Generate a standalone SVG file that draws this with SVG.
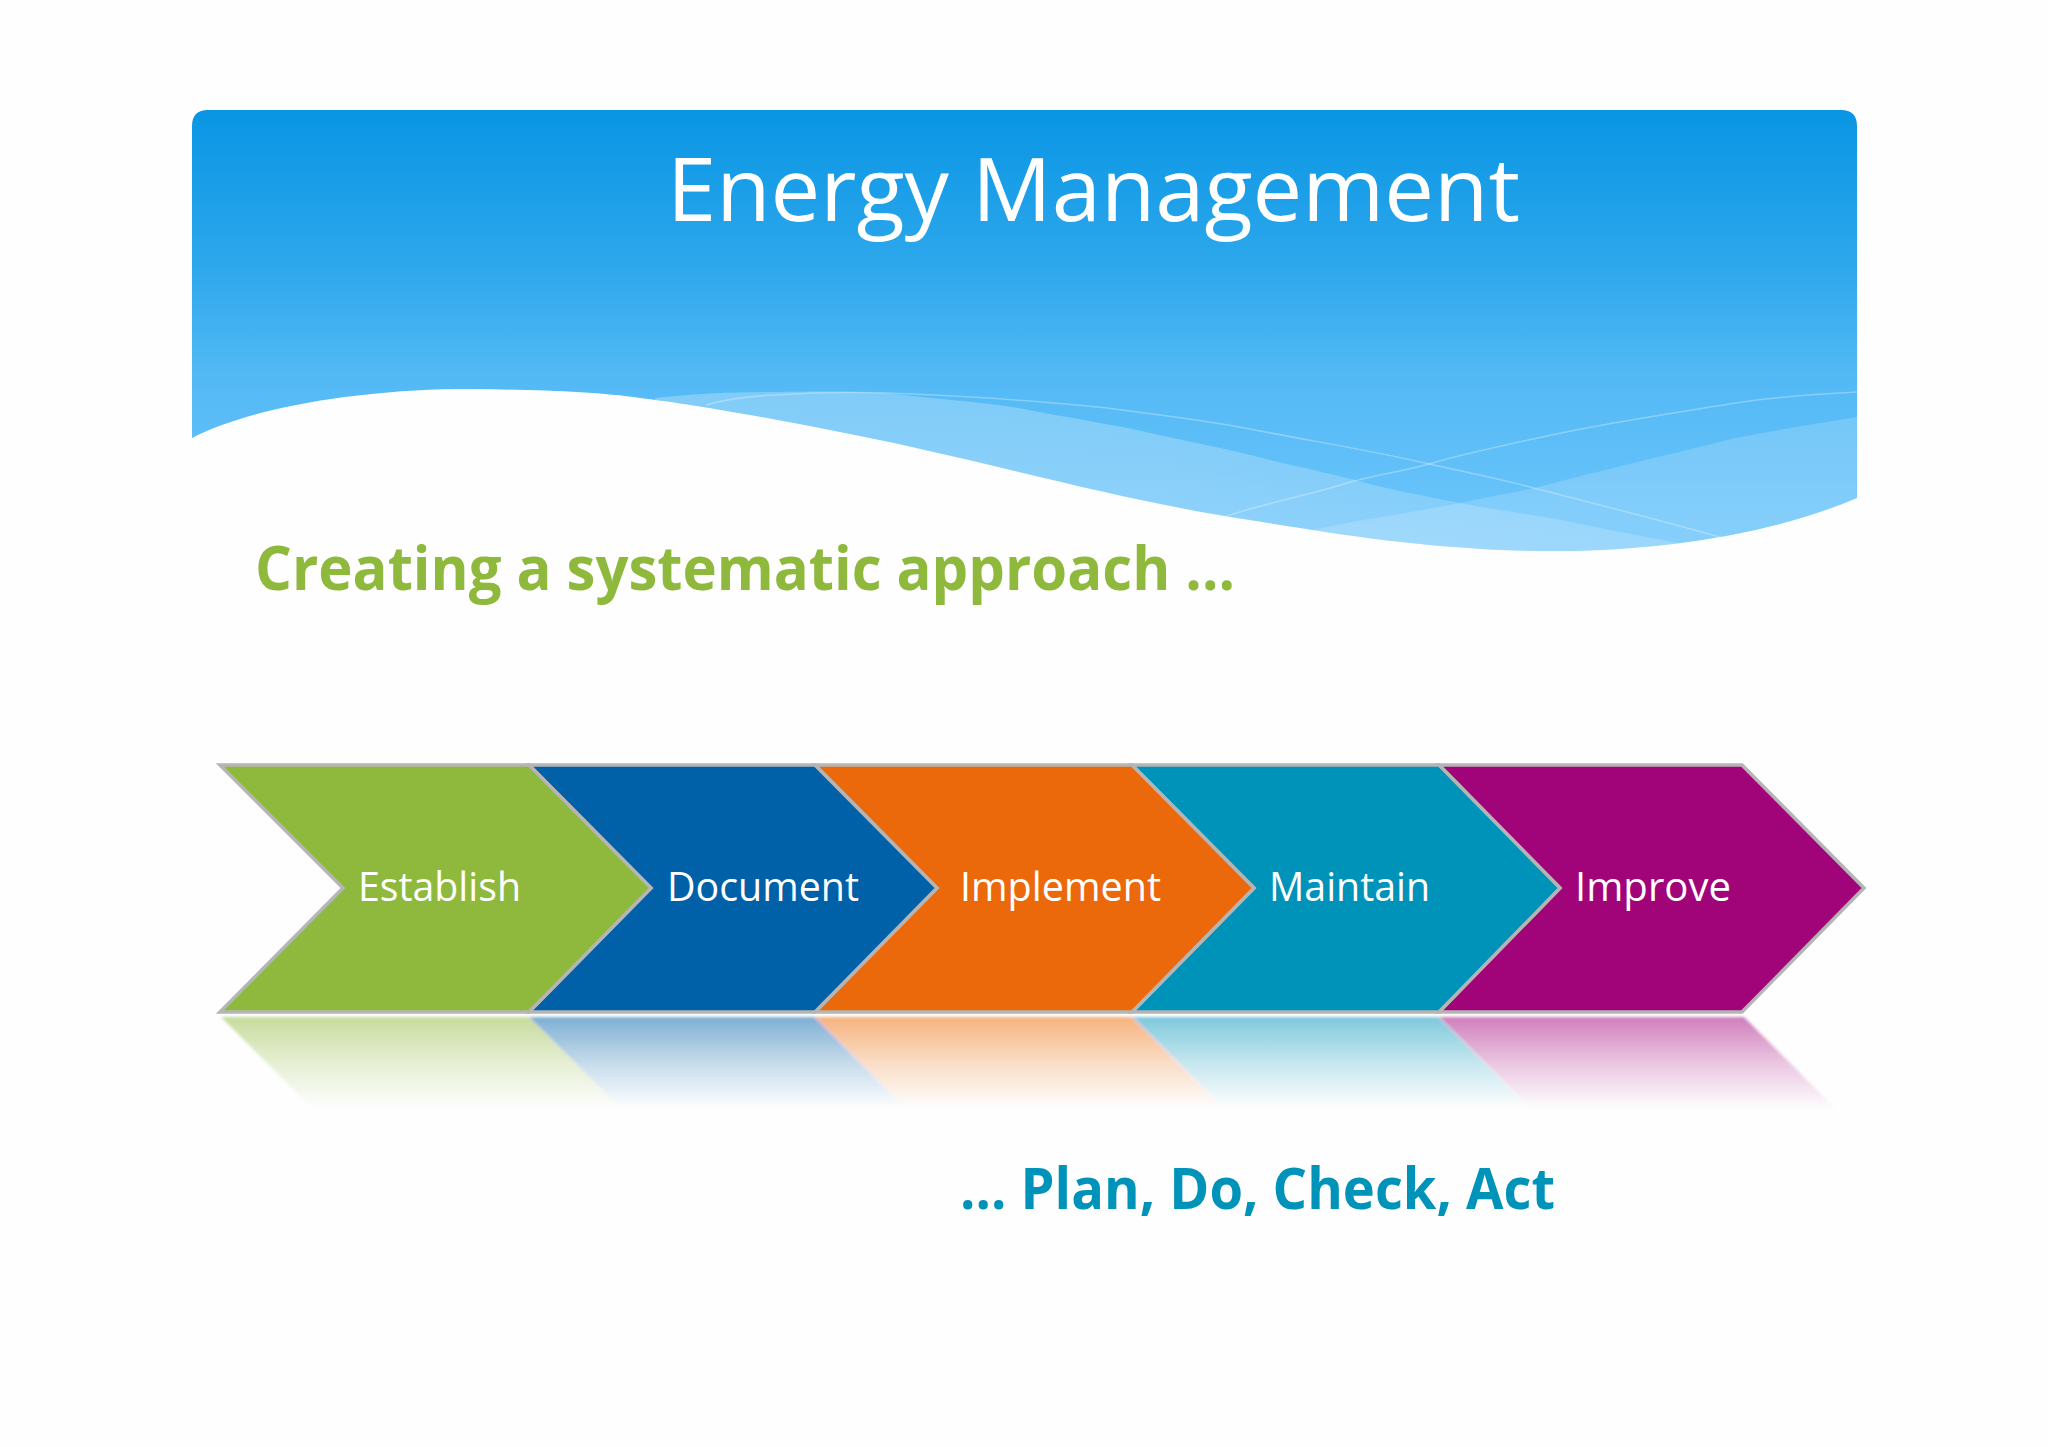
<svg xmlns="http://www.w3.org/2000/svg" width="2048" height="1447" viewBox="0 0 2048 1447">
<style>
text{font-family:"Open Sans","Noto Sans","Liberation Sans",sans-serif}
.lab{font-size:40px;fill:#fff}
.ch{stroke:#b5b5b5;stroke-width:3.5;stroke-linejoin:miter}
.hi{fill:none;stroke:#fff;stroke-opacity:.3;stroke-width:1.5}
</style>
<defs>
<linearGradient id="sky" x1="0" y1="0" x2="0" y2="1"><stop offset="0" stop-color="#0995e4"/><stop offset=".36" stop-color="#2ea8ec"/><stop offset=".6" stop-color="#52b9f5"/><stop offset="1" stop-color="#70c6fb"/></linearGradient>
<linearGradient id="bandA" gradientUnits="userSpaceOnUse" x1="650" y1="0" x2="1700" y2="0"><stop offset="0" stop-color="#fff" stop-opacity=".26"/><stop offset=".5" stop-color="#fff" stop-opacity=".24"/><stop offset="1" stop-color="#fff" stop-opacity=".16"/></linearGradient>
<linearGradient id="rg" x1="0" y1="0" x2="0" y2="1"><stop offset="0" stop-color="#8fb93c" stop-opacity=".5"/><stop offset=".5" stop-color="#8fb93c" stop-opacity=".22"/><stop offset="1" stop-color="#8fb93c" stop-opacity="0"/></linearGradient>
<linearGradient id="rb" x1="0" y1="0" x2="0" y2="1"><stop offset="0" stop-color="#0060a8" stop-opacity=".5"/><stop offset=".5" stop-color="#0060a8" stop-opacity=".22"/><stop offset="1" stop-color="#0060a8" stop-opacity="0"/></linearGradient>
<linearGradient id="ro" x1="0" y1="0" x2="0" y2="1"><stop offset="0" stop-color="#ec690b" stop-opacity=".5"/><stop offset=".5" stop-color="#ec690b" stop-opacity=".22"/><stop offset="1" stop-color="#ec690b" stop-opacity="0"/></linearGradient>
<linearGradient id="rt" x1="0" y1="0" x2="0" y2="1"><stop offset="0" stop-color="#0093b9" stop-opacity=".5"/><stop offset=".5" stop-color="#0093b9" stop-opacity=".22"/><stop offset="1" stop-color="#0093b9" stop-opacity="0"/></linearGradient>
<linearGradient id="rp" x1="0" y1="0" x2="0" y2="1"><stop offset="0" stop-color="#a10478" stop-opacity=".5"/><stop offset=".5" stop-color="#a10478" stop-opacity=".22"/><stop offset="1" stop-color="#a10478" stop-opacity="0"/></linearGradient>
<filter id="soft" x="-5%" y="-10%" width="110%" height="120%"><feGaussianBlur stdDeviation="1.5"/></filter>
<clipPath id="bc"><path d="M192 438C262 402 385 388 477 389C540 390 600 392 640 398C700 405 800 423 912 447C1029 473 1130 502 1250 520C1330 533 1440 552 1561 551C1660 550 1770 535 1857 498V126Q1857 110 1841 110H208Q192 110 192 126Z"/></clipPath>
</defs>
<rect width="2048" height="1447" fill="#fefefe"/>
<g id="banner">
<path d="M192 438C262 402 385 388 477 389C540 390 600 392 640 398C700 405 800 423 912 447C1029 473 1130 502 1250 520C1330 533 1440 552 1561 551C1660 550 1770 535 1857 498V126Q1857 110 1841 110H208Q192 110 192 126Z" fill="url(#sky)"/>
<g clip-path="url(#bc)">
<path d="M655 398C700 393 740 392 776 392C830 391 870 391 912 396C960 401 1000 404 1029 410C1070 418 1110 424 1146 432C1180 440 1215 446 1250 455C1290 465 1320 471 1355 480C1390 490 1420 495 1460 503C1495 510 1530 514 1561 520C1600 528 1640 536 1678 543L1700 620L640 620Z" fill="url(#bandA)"/>
<path d="M1857 417C1815 424 1775 430 1736 438C1670 454 1600 471 1538 487C1510 494 1485 497 1460 503C1420 511 1385 516 1347 523L1290 534L1290 620L1857 620Z" fill="#fff" fill-opacity=".17"/>
<path class="hi" d="M706 405C730 398 750 396 776 395C820 392 870 392 912 394C980 397 1050 402 1107 408C1160 415 1205 420 1250 429C1310 441 1370 450 1429 464C1465 472 1495 478 1530 487C1600 505 1660 520 1723 538"/>
<path class="hi" d="M1857 392C1815 394 1775 397 1736 403C1680 412 1620 421 1561 433C1515 443 1470 452 1429 464C1400 472 1375 475 1347 483C1310 495 1265 503 1224 517"/>
</g>
</g>
<g id="title"><text x="667" y="221" font-size="88" fill="#fff" textLength="853" lengthAdjust="spacingAndGlyphs">Energy Management</text></g>
<g id="subtitle"><text x="255" y="590" font-size="61" font-weight="700" fill="#8fb93c" textLength="980" lengthAdjust="spacingAndGlyphs">Creating a systematic approach ...</text></g>
<g id="reflections" filter="url(#soft)">
<polygon fill="url(#rg)" points="221,1017 529,1017 621,1109 313,1109"/>
<polygon fill="url(#rb)" points="529,1017 815,1017 907,1109 621,1109"/>
<polygon fill="url(#ro)" points="815,1017 1132,1017 1224,1109 907,1109"/>
<polygon fill="url(#rt)" points="1132,1017 1439,1017 1531,1109 1224,1109"/>
<polygon fill="url(#rp)" points="1439,1017 1744,1017 1836,1109 1531,1109"/>
</g>
<g id="improve"><polygon class="ch" fill="#a10478" points="1439,765 1742,765 1864,888 1742,1012 1439,1012 1560,888"/><text class="lab" x="1575" y="901" textLength="156" lengthAdjust="spacingAndGlyphs">Improve</text></g>
<g id="maintain"><polygon class="ch" fill="#0093b9" points="1132,765 1439,765 1560,888 1439,1012 1132,1012 1254,888"/><text class="lab" x="1269" y="901" textLength="161" lengthAdjust="spacingAndGlyphs">Maintain</text></g>
<g id="implement"><polygon class="ch" fill="#ec690b" points="815,765 1132,765 1254,888 1132,1012 815,1012 937,888"/><text class="lab" x="960" y="901" textLength="201" lengthAdjust="spacingAndGlyphs">Implement</text></g>
<g id="document"><polygon class="ch" fill="#0060a8" points="529,765 815,765 937,888 815,1012 529,1012 651,888"/><text class="lab" x="667" y="901" textLength="192" lengthAdjust="spacingAndGlyphs">Document</text></g>
<g id="establish"><polygon class="ch" fill="#8fb93c" points="220,765 529,765 651,888 529,1012 220,1012 343,888"/><text class="lab" x="358" y="901" textLength="163" lengthAdjust="spacingAndGlyphs">Establish</text></g>
<g id="pdca"><text x="960" y="1209" font-size="58" font-weight="700" fill="#0093b9" textLength="595" lengthAdjust="spacingAndGlyphs">... Plan, Do, Check, Act</text></g>
</svg>
